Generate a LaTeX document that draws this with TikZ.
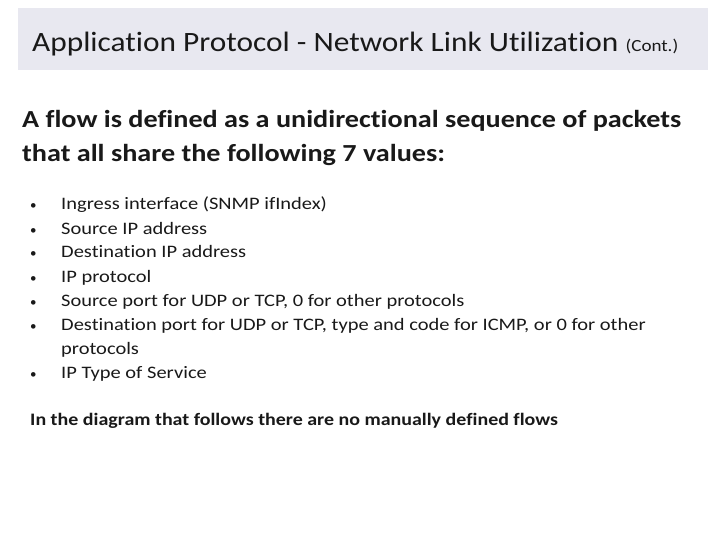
\documentclass[tikz,border=0pt]{standalone}
\usepackage{fontspec}
\setmainfont{Carlito}[Ligatures=NoCommon]
\newfontfamily\fA{Carlito}[FakeStretch=1.12,Ligatures=NoCommon]
\newfontfamily\fB{Carlito}[FakeStretch=1.15,Ligatures=NoCommon]
\newfontfamily\fC{Carlito}[FakeStretch=1.17,Ligatures=NoCommon]
\newfontfamily\fD{Carlito}[FakeStretch=1.14,Ligatures=NoCommon]
\begin{document}
\begin{tikzpicture}[x=1pt,y=-1pt,
  txt/.style={anchor=base west,inner sep=0pt,text=black!90},
  item/.style={txt,font=\fC\fontsize{17.5}{21}\selectfont},
  bul/.style={txt,font=\fontsize{13}{21}\selectfont}]
\useasboundingbox[fill=white] (0,0) rectangle (720,540);
\node[fill=blue!20!gray!15,minimum width=690pt,minimum height=62pt,anchor=north west,inner sep=0pt] (tb) at (18,8) {};
\node[txt,font=\fA\fontsize{28}{32}\selectfont] (title) at (32,52) {Application Protocol - Network Link Utilization {\fontsize{17}{20}\selectfont(Cont.)}};
\node[txt,font=\fB\bfseries\fontsize{24.5}{30}\selectfont] (h1) at (22,128) {A flow is defined as a unidirectional sequence of packets};
\node[txt,font=\fB\bfseries\fontsize{24.5}{30}\selectfont] (h2) at (22,162) {that all share the following 7 values:};
\foreach \y/\t [count=\i] in {210/Ingress interface (SNMP ifIndex),234/Source IP address,258/Destination IP address,282/IP protocol,306/{Source port for UDP or TCP, 0 for other protocols},330/{Destination port for UDP or TCP, type and code for ICMP, or 0 for other},354/protocols,378/IP Type of Service}{
  \node[item] (t\i) at (61,\y) {\t};
}
\foreach \y [count=\i] in {210,234,258,282,306,330,378}{
  \node[bul] (b\i) at (30,\y) {•};
}
\node[txt,font=\fD\bfseries\fontsize{17.5}{21}\selectfont] (foot) at (30,425) {In the diagram that follows there are no manually defined flows};
\end{tikzpicture}
\end{document}
